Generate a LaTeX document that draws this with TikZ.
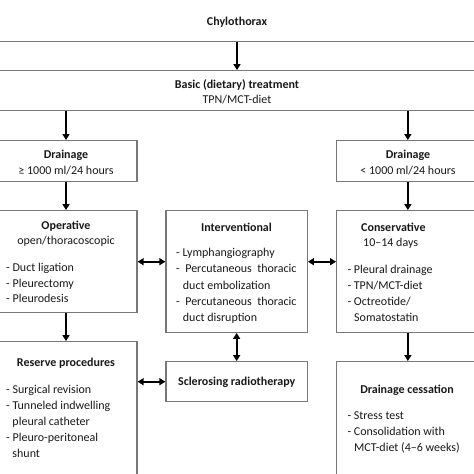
\documentclass[tikz,border=0pt]{standalone}
\usepackage{fontspec}
\setmainfont{Carlito}
\usetikzlibrary{arrows.meta}
\definecolor{boxgray}{RGB}{120,120,120}
\definecolor{band}{RGB}{228,228,228}
\definecolor{ink}{RGB}{25,25,25}
\tikzset{
  box/.style={draw=boxgray, line width=1.3pt, inner sep=0pt, fill=white},
  txt/.style={inner sep=0pt, text=ink, font=\fontsize{12}{14}\selectfont},
  hd/.style={txt, font=\fontsize{12}{14}\selectfont\bfseries},
  arr/.style={line width=1.8pt, -{Triangle[length=6pt,width=7pt]}},
  darr/.style={line width=1.8pt, {Triangle[length=6pt,width=7pt]}-{Triangle[length=6pt,width=7pt]}}
}
\newcommand\tc[4]{\node[#1, anchor=base] (#2) at (#3) {#4};}
\newcommand\tw[4]{\node[#1, anchor=base west] (#2) at (#3) {#4};}
\begin{document}
\begin{tikzpicture}[x=1pt,y=-1pt]
\useasboundingbox (0,0) rectangle (474,474);
\clip (0,0) rectangle (474,474);
\fill[band] (0,0) rectangle (474,3.5);
% boxes
\node[box, minimum width=484, minimum height=46.7] (top) at (237,18.35) {};
\node[box, minimum width=484, minimum height=40] (basic) at (237,90.7) {};
\node[box, minimum width=142, minimum height=41] (drainL) at (66,161.2) {};
\node[box, minimum width=142.3, minimum height=41] (drainR) at (407.85,161.2) {};
\node[box, minimum width=142, minimum height=102] (oper) at (66,261.7) {};
\node[box, minimum width=141.3, minimum height=121.6] (interv) at (236.65,271.5) {};
\node[box, minimum width=142.3, minimum height=121.6] (cons) at (407.85,271.5) {};
\node[box, minimum width=142, minimum height=140] (reserve) at (66,411.7) {};
\node[box, minimum width=141.3, minimum height=40] (scler) at (236.65,381.7) {};
\node[box, minimum width=142.3, minimum height=120] (cess) at (407.85,421.7) {};
% texts
\tc{hd}{t1}{237,25}{Chylothorax}
\tc{hd}{t2}{237,88}{Basic (dietary) treatment}
\tc{txt}{t3}{237,103}{TPN/MCT-diet}
\tc{hd}{t4}{66,158}{Drainage}
\tc{txt}{t5}{66,174}{≥ 1000 ml/24 hours}
\tc{hd}{t6}{408,158}{Drainage}
\tc{txt}{t7}{408,174}{< 1000 ml/24 hours}
\tc{hd}{t8}{66,229}{Operative}
\tc{txt}{t9}{66,244}{open/thoracoscopic}
\tw{txt}{t10}{6,271}{- Duct ligation}
\tw{txt}{t11}{6,287}{- Pleurectomy}
\tw{txt}{t12}{6,302}{- Pleurodesis}
\tc{hd}{t13}{236.5,231}{Interventional}
\tw{txt}{t14}{176,256}{- Lymphangiography}
\tw{txt}{t15}{176,272}{-\ \ Percutaneous\ \ thoracic}
\tw{txt}{t16}{182.7,289}{duct embolization}
\tw{txt}{t17}{176,305}{-\ \ Percutaneous\ \ thoracic}
\tw{txt}{t18}{182.7,321}{duct disruption}
\tw{hd}{t19}{361,231}{Conservative}
\tw{txt}{t20}{363,246}{10–14 days}
\tw{txt}{t21}{347.3,273}{- Pleural drainage}
\tw{txt}{t22}{347.3,289}{- TPN/MCT-diet}
\tw{txt}{t23}{347.3,305}{- Octreotide/}
\tw{txt}{t24}{354,321}{Somatostatin}
\tc{hd}{t25}{66,366.7}{Reserve procedures}
\tw{txt}{t26}{6,393}{- Surgical revision}
\tw{txt}{t27}{6,409}{- Tunneled indwelling}
\tw{txt}{t28}{12.3,425}{pleural catheter}
\tw{txt}{t29}{6,441}{- Pleuro-peritoneal}
\tw{txt}{t30}{12.3,457}{shunt}
\tc{hd}{t31}{236.7,385}{Sclerosing radiotherapy}
\tc{hd}{t32}{407,393}{Drainage cessation}
\tw{txt}{t33}{347.3,419}{- Stress test}
\tw{txt}{t34}{347.3,435}{- Consolidation with}
\tw{txt}{t35}{354,451}{MCT-diet (4–6 weeks)}
% connectors
\draw[arr] (top.south) -- (basic.north);
\draw[arr] (basic.south -| drainL) -- (drainL.north);
\draw[arr] (basic.south -| drainR) -- (drainR.north);
\draw[arr] (drainL.south) -- (oper.north);
\draw[arr] (drainR.south) -- (cons.north);
\draw[arr] (oper.south) -- (reserve.north);
\draw[arr] (cons.south) -- (cess.north);
\draw[darr] (oper.east) -- (oper.east -| interv.west);
\draw[darr] (oper.east -| interv.east) -- (oper.east -| cons.west);
\draw[darr] (interv.south) -- (scler.north);
\draw[darr] (scler.west -| reserve.east) -- (scler.west);
\end{tikzpicture}
\end{document}
